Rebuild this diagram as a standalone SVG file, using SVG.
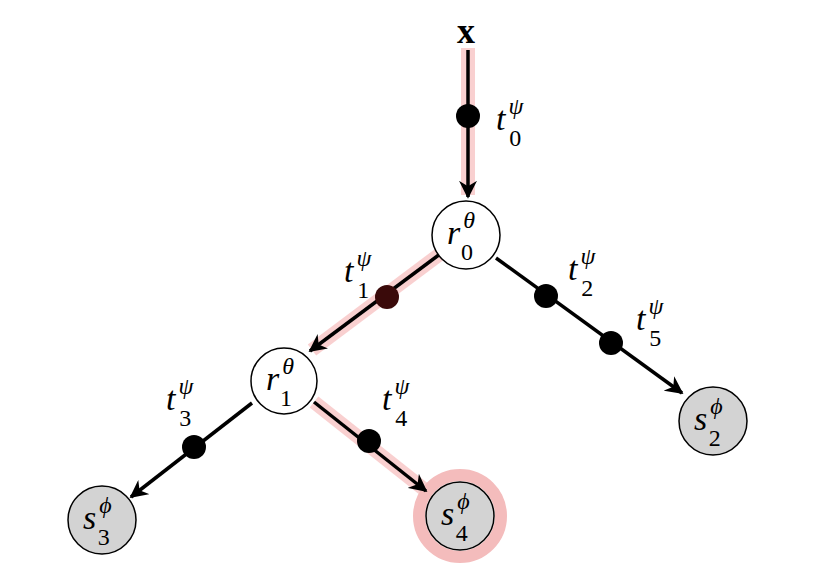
<svg xmlns="http://www.w3.org/2000/svg" width="820" height="569" viewBox="0 0 820 569">
<style>
.e{stroke:#000;stroke-width:3.5;fill:none}
.h{stroke:#f9d0d0;stroke-width:14;fill:none;stroke-linecap:butt}
.d{fill:#000}
.w{fill:#fff;stroke:#000;stroke-width:1.5}
.g{fill:#d3d3d3;stroke:#000;stroke-width:1.5}
text{font-family:"Liberation Serif","DejaVu Serif",serif;font-size:34px;font-style:italic}
.s{font-size:24px}
.n{font-style:normal}
</style>
<defs>
<marker id="ar" viewBox="0 0 10 10" refX="9" refY="5" markerWidth="18" markerHeight="18" orient="auto" markerUnits="userSpaceOnUse"><path d="M0,0L10,5L0,10L3,5Z" fill="#000"/></marker></defs>
<g id="highlights">
<line class="h" x1="468" y1="48" x2="468" y2="195"/>
<line class="h" x1="440" y1="254" x2="312" y2="350"/>
<line class="h" x1="314" y1="402" x2="425" y2="490"/>
<circle cx="460" cy="516" r="41" fill="none" stroke="#f4bcbc" stroke-width="12"/>
</g>
<g id="connectors">
<line class="e" x1="468" y1="50" x2="468" y2="197" marker-end="url(#ar)"/>
<line class="e" x1="440" y1="254" x2="310" y2="351" marker-end="url(#ar)"/>
<line class="e" x1="496" y1="258" x2="682" y2="393" marker-end="url(#ar)"/>
<line class="e" x1="252" y1="403" x2="131" y2="497" marker-end="url(#ar)"/>
<line class="e" x1="314" y1="402" x2="426" y2="491" marker-end="url(#ar)"/>
<circle class="d" cx="468" cy="116" r="12"/>
<circle cx="387" cy="297" r="12" fill="#3a0a0a"/>
<circle class="d" cx="546" cy="296" r="12"/>
<circle class="d" cx="611" cy="343" r="12"/>
<circle class="d" cx="194" cy="447" r="12"/>
<circle class="d" cx="369" cy="441" r="12"/>
</g>
<g id="x"><text x="457" y="43" style="font-style:normal;font-weight:bold;font-size:36px">x</text></g>
<g id="labels">
<text x="496" y="130">t<tspan class="s" dx="3" dy="-16">ψ</tspan><tspan class="s n" dx="-14" dy="32">0</tspan></text>
<text x="344" y="282">t<tspan class="s" dx="3" dy="-16">ψ</tspan><tspan class="s n" dx="-14" dy="32">1</tspan></text>
<text x="568" y="280">t<tspan class="s" dx="3" dy="-16">ψ</tspan><tspan class="s n" dx="-14" dy="32">2</tspan></text>
<text x="636" y="330">t<tspan class="s" dx="3" dy="-16">ψ</tspan><tspan class="s n" dx="-14" dy="32">5</tspan></text>
<text x="166" y="410">t<tspan class="s" dx="3" dy="-16">ψ</tspan><tspan class="s n" dx="-14" dy="32">3</tspan></text>
<text x="382" y="410">t<tspan class="s" dx="3" dy="-16">ψ</tspan><tspan class="s n" dx="-14" dy="32">4</tspan></text>
</g>
<g id="r0"><circle class="w" cx="466" cy="235" r="34"/><text x="447" y="244">r<tspan class="s" dx="3" dy="-16">θ</tspan><tspan class="s n" dx="-14" dy="32">0</tspan></text></g>
<g id="r1"><circle class="w" cx="284" cy="381" r="33"/><text x="266" y="390">r<tspan class="s" dx="3" dy="-16">θ</tspan><tspan class="s n" dx="-14" dy="32">1</tspan></text></g>
<g id="s2"><circle class="g" cx="713" cy="421" r="34"/><text x="694" y="430">s<tspan class="s" dx="3" dy="-16">ϕ</tspan><tspan class="s n" dx="-14" dy="32">2</tspan></text></g>
<g id="s3"><circle class="g" cx="102" cy="520" r="34"/><text x="83" y="529">s<tspan class="s" dx="3" dy="-16">ϕ</tspan><tspan class="s n" dx="-14" dy="32">3</tspan></text></g>
<g id="s4"><circle class="g" cx="460" cy="516" r="34"/><text x="441" y="525">s<tspan class="s" dx="3" dy="-16">ϕ</tspan><tspan class="s n" dx="-14" dy="32">4</tspan></text></g>
</svg>
